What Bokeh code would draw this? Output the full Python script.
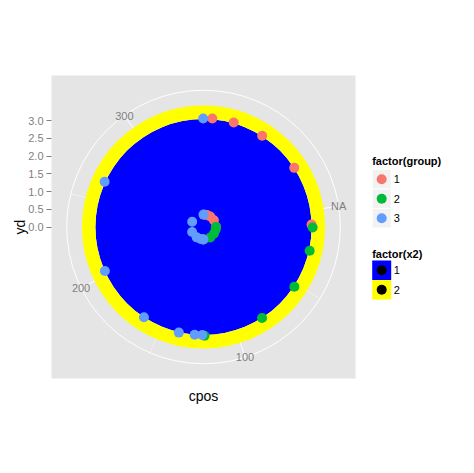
import numpy as np
from bokeh.plotting import figure
from bokeh.layouts import row
from bokeh.models import Range1d, LinearAxis, FixedTicker, NumeralTickFormatter
from bokeh.core.properties import value
from bokeh.embed import file_html
from bokeh.resources import INLINE

# ---------------- data ----------------
group_levels = ["1", "2", "3"]
group_colors = ["#F8766D", "#00BA38", "#619CFF"]
x2_levels = ["1", "2"]
x2_fills = ["#0000FF", "#FFFF00"]

# points on the outer edge (cpos, yd, group)
outer_cpos = [-94.3, -80.2, -59.8, -30.0, 9.3,
              11.2, 26.5, 52.0, 81.5, 121.1,
              122.6, 127.5, 137.9, 162.8, 202.9, 263.0, 343.3]
outer_yd = [3.07, 3.07, 3.06, 3.05, 3.04,
            3.07, 3.06, 3.06, 3.05, 3.07,
            3.05, 3.05, 3.06, 3.05, 3.04, 3.06, 3.06]
point_group = ["1"] * 5 + ["2"] * 5 + ["3"] * 7

# points of the small inner ring
inner_cpos = outer_cpos
inner_yd = [0.35] * 17

# filled bars (x2 levels): radial extent in yd units
bar_yd_low = [0.0, 3.04]
bar_yd_high = [3.04, 3.42]

# scales / breaks
theta_lim = (-100.0, 343.5)
r_lim = (0.0, 3.42)
theta_breaks = [0, 100, 200, 300]
theta_labels = ["NA", "100", "200", "300"]
theta_minor = [50, 150, 250]
yd_breaks = [0.0, 0.5, 1.0, 1.5, 2.0, 2.5, 3.0]

FONT = "Liberation Sans"
GREY = "#7F7F7F"

# page layout (pixels)
PAGE_W, PAGE_H = 474, 473
FRAME_L, FRAME_R, FRAME_T, FRAME_B = 51, 355, 75, 378
MAIN_W = 362


def theta(x):
    return 2 * np.pi * (np.asarray(x, float) - theta_lim[0]) / (theta_lim[1] - theta_lim[0])


def rr(y):
    return 0.4 * (np.asarray(y, float) - r_lim[0]) / (r_lim[1] - r_lim[0])


def polar_xy(x, r_panel):
    t = theta(x)
    return r_panel * np.sin(t), r_panel * np.cos(t)


# ---------------- main panel ----------------
p = figure(width=MAIN_W, height=PAGE_H,
           x_range=Range1d(-0.5, 0.5), y_range=Range1d(-0.5, 0.5),
           x_axis_type=None, y_axis_type=None,
           output_backend="svg", toolbar_location=None,
           min_border_left=FRAME_L, min_border_right=MAIN_W - FRAME_R,
           min_border_top=FRAME_T, min_border_bottom=PAGE_H - FRAME_B,
           background_fill_color="#E5E5E5", border_fill_color="white",
           outline_line_color=None)
p.grid.visible = False

# theta grid lines
mx, my = polar_xy(theta_minor, 0.45)
p.segment(x0=0, y0=0, x1=mx, y1=my, line_color="#F2F2F2", line_width=0.8)
gx, gy = polar_xy(theta_breaks, 0.45)
p.segment(x0=0, y0=0, x1=gx, y1=gy, line_color="white", line_width=1)
p.circle(x=[0], y=[0], radius=[0.45], fill_color=None, line_color="white", line_width=1)

# filled rings (bars for x2 = 1, 2)
p.annulus(x=[0, 0], y=[0, 0],
          inner_radius=list(rr(bar_yd_low)), outer_radius=list(rr(bar_yd_high)),
          fill_color=x2_fills, line_color=None)

# points
for cpos_list, yd_list in ((outer_cpos, outer_yd), (inner_cpos, inner_yd)):
    for g, col in zip(group_levels, group_colors):
        idx = [i for i, gg in enumerate(point_group) if gg == g]
        xs, ys = polar_xy([cpos_list[i] for i in idx], rr([yd_list[i] for i in idx]))
        p.scatter(x=xs, y=ys, size=10, fill_color=col, line_color=None)

# theta labels
lx, ly = polar_xy(theta_breaks, 0.45)
p.text(x=lx, y=ly, text=theta_labels, text_align="center", text_baseline="middle",
       text_font=value(FONT), text_font_size=value("11px"), text_color=GREY)

# radial (yd) axis
p.extra_y_ranges = {"yd": Range1d(r_lim[0] - 0.5 * (r_lim[1] - r_lim[0]) / 0.4,
                                  r_lim[0] + 0.5 * (r_lim[1] - r_lim[0]) / 0.4)}
yax = LinearAxis(y_range_name="yd", ticker=FixedTicker(ticks=yd_breaks),
                 formatter=NumeralTickFormatter(format="0.0"), axis_label="yd")
yax.axis_line_color = None
yax.major_tick_line_color = GREY
yax.major_tick_in = 0
yax.major_tick_out = 5
yax.minor_tick_line_color = None
yax.major_label_text_color = GREY
yax.major_label_text_font = FONT
yax.major_label_text_font_size = "11px"
yax.major_label_standoff = 3
yax.axis_label_text_font = FONT
yax.axis_label_text_font_size = "14px"
yax.axis_label_text_font_style = "normal"
yax.axis_label_text_color = "black"
yax.axis_label_standoff = -3
p.add_layout(yax, "left")

xax = LinearAxis(ticker=FixedTicker(ticks=[]), axis_label="cpos")
xax.axis_line_color = None
xax.major_tick_line_color = None
xax.minor_tick_line_color = None
xax.axis_label_text_font = FONT
xax.axis_label_text_font_size = "14px"
xax.axis_label_text_font_style = "normal"
xax.axis_label_text_color = "black"
xax.axis_label_standoff = 9
p.add_layout(xax, "below")

# ---------------- legend panel (page pixel coordinates) ----------------
q = figure(width=PAGE_W - MAIN_W, height=PAGE_H,
           x_range=Range1d(MAIN_W, PAGE_W), y_range=Range1d(FRAME_B, FRAME_T),
           x_axis_type=None, y_axis_type=None,
           output_backend="svg", toolbar_location=None,
           min_border_left=0, min_border_right=0,
           min_border_top=FRAME_T, min_border_bottom=PAGE_H - FRAME_B,
           background_fill_color="white", border_fill_color="white",
           outline_line_color=None)
q.grid.visible = False

KEY = 19.5
KX = 381.2
LABX = 393.3
TITX = 371.7

# legend 1: factor(group)
t1_y, k1_top = 160.5, 169.0
k1_y = [k1_top + KEY * (i + 0.5) for i in range(len(group_levels))]
q.text(x=[TITX], y=[t1_y], text=["factor(group)"], text_align="left", text_baseline="middle",
       text_font=value(FONT), text_font_size=value("11px"), text_font_style="bold",
       text_color="black")
q.rect(x=[KX] * len(group_levels), y=k1_y, width=19, height=KEY,
       fill_color="#F2F2F2", line_color="white", line_width=1)
q.scatter(x=[KX] * len(group_levels), y=k1_y, size=10, fill_color=group_colors, line_color=None)
q.text(x=[LABX] * len(group_levels), y=k1_y, text=group_levels, text_align="left",
       text_baseline="middle", text_font=value(FONT), text_font_size=value("11px"),
       text_color="black")

# legend 2: factor(x2)
t2_y, k2_top = 253.0, 260.0
k2_y = [k2_top + KEY * (i + 0.5) for i in range(len(x2_levels))]
q.text(x=[TITX], y=[t2_y], text=["factor(x2)"], text_align="left", text_baseline="middle",
       text_font=value(FONT), text_font_size=value("11px"), text_font_style="bold",
       text_color="black")
q.rect(x=[KX] * len(x2_levels), y=k2_y, width=19, height=KEY,
       fill_color=x2_fills, line_color=None)
q.scatter(x=[KX] * len(x2_levels), y=k2_y, size=10, fill_color="black", line_color=None)
q.text(x=[LABX] * len(x2_levels), y=k2_y, text=x2_levels, text_align="left",
       text_baseline="middle", text_font=value(FONT), text_font_size=value("11px"),
       text_color="black")

layout = row(p, q)
open("out.html", "w").write(file_html(layout, INLINE))
